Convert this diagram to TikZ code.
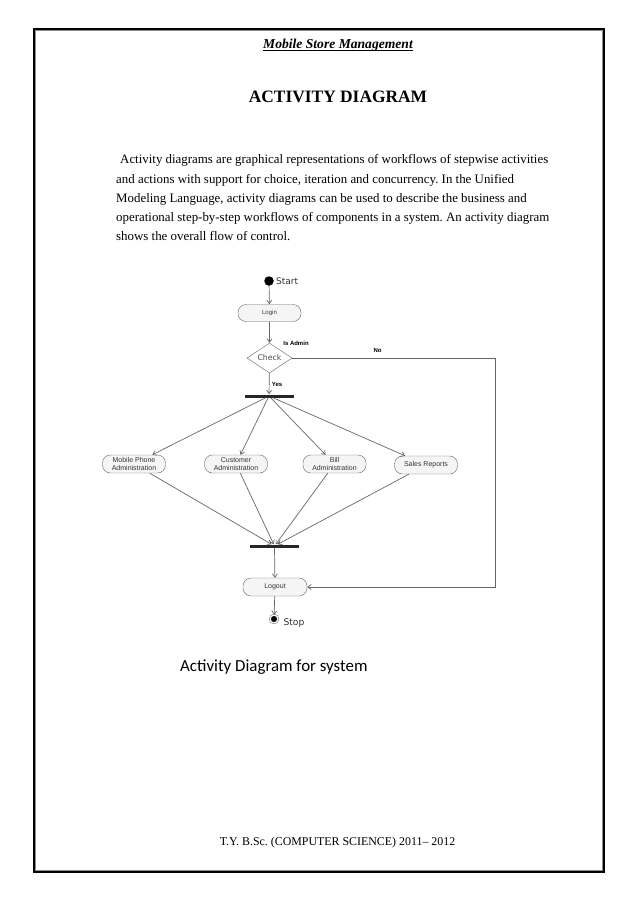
\documentclass[tikz,border=0pt]{standalone}
\usepackage{fontspec}
\setmainfont{Liberation Serif}
\newfontfamily\umlfont{Liberation Sans}
\newfontfamily\vfont{DejaVu Sans}
\newfontfamily\calfont{Carlito}
\usetikzlibrary{arrows.meta,positioning,shapes.geometric}
\frenchspacing

\begin{document}
\begin{tikzpicture}[
        x=1pt,y=-1pt,
        >={Straight Barb[length=3.5pt,width=5pt]},
        activity/.style={rectangle,rounded corners=8pt,draw=black!60,fill=black!4,minimum width=63pt,minimum height=18pt,inner sep=0pt,align=center,text=black!80,font=\umlfont\fontsize{7}{7.2}\selectfont},
        decision/.style={diamond,draw=black!60,fill=white,minimum width=45pt,minimum height=30pt,inner sep=0pt,aspect=1.5,text=black!70,font=\vfont\fontsize{7.8}{8}\selectfont},
        bar/.style={rectangle,fill=black!85,minimum width=49pt,minimum height=3pt,inner sep=0pt},
        guard/.style={font=\umlfont\bfseries\fontsize{6}{6}\selectfont,inner sep=0pt},
        flow/.style={->,black!60,line width=0.7pt}
    ]
        \useasboundingbox (0,0) rectangle (638,902);
        % page frame
        \draw[line width=1.7pt] (33.8,28.8) rectangle (604.2,872.2);
        \draw[black!45,line width=1.6pt] (35.6,30.6) rectangle (602.4,870.4);

        % header and text
        \node[font=\bfseries\itshape\fontsize{13.6}{14}\selectfont,inner sep=0pt] (head) at (338,45) {Mobile Store Management};
        \draw[line width=0.6pt] ([yshift=1.5pt]head.south west) -- ([yshift=1.5pt]head.south east);
        \node[font=\bfseries\fontsize{17.4}{18}\selectfont] (title) at (338,97) {ACTIVITY DIAGRAM};
        \node[anchor=north west,align=left,inner sep=0pt,font=\fontsize{12.9}{19.25}\selectfont] (intro) at (116,154.5)
            {\hspace{4pt}Activity diagrams are graphical representations of workflows of stepwise activities\\
             and actions with support for choice, iteration and concurrency. In the Unified\\
             Modeling Language, activity diagrams can be used to describe the business and\\
             operational step-by-step workflows of components in a system. An activity diagram\\
             shows the overall flow of control.};

        % activity diagram
        \node[circle,fill=black,minimum size=9.5pt,inner sep=0pt] (start) at (269,281) {};
        \node[right=2pt of start,font=\vfont\fontsize{9}{9}\selectfont,text=black!80,inner sep=0pt] (startlbl) {Start};
        \node[activity,minimum height=17pt,font=\umlfont\fontsize{6}{6}\selectfont] (login) at (269.5,313) {Login};
        \node[decision] (check) at (269.5,358) {Check};
        \node[bar] (fork) at (269,396) {};
        \node[activity] (phone) at (134,464) {Mobile Phone\\Administration};
        \node[activity] (cust) at (236,464) {Customer\\Administration};
        \node[activity] (bill) at (334.5,464) {Bill\\Administration};
        \node[activity] (sales) at (426,465) {Sales Reports};
        \node[bar] (join) at (274.5,546) {};
        \node[activity,minimum width=64pt] (logout) at (275,587) {Logout};
        \node[circle,fill=black,draw=black!70,double=white,double distance=1.2pt,minimum size=8pt,inner sep=0pt] (stop) at (274,619) {};
        \node[font=\vfont\fontsize{9.2}{9}\selectfont,text=black!80,inner sep=0pt] (stoplbl) at (294,623) {Stop};
        \coordinate (nocorner1) at (495,358);
        \coordinate (nocorner2) at (495,587);

        \draw[flow] (start) -- (login);
        \draw[flow] (login) -- (check);
        \draw[flow] (check) -- (fork);
        \foreach \task in {phone,cust,bill,sales} {
            \draw[flow] (fork) -- (\task);
            \draw[flow] (\task) -- (join);
        }
        \draw[flow] (join) -- (logout);
        \draw[flow] (logout) -- (stop);
        \draw[flow] (check.east) -- (nocorner1) -- (nocorner2) -- (logout.east);

        \node[guard] at (296,343) {Is Admin};
        \node[guard] at (377.5,350) {No};
        \node[guard] at (277,384) {Yes};

        % caption and footer
        \node[anchor=west,font=\calfont\fontsize{16.9}{17}\selectfont,inner sep=0pt] (caption) at (180,667) {Activity Diagram for system};
        \node[font=\fontsize{11.9}{12}\selectfont,inner sep=0pt] (foot) at (337.5,843) {T.Y. B.Sc. (COMPUTER SCIENCE) 2011-- 2012};
    \end{tikzpicture}
\end{document}
